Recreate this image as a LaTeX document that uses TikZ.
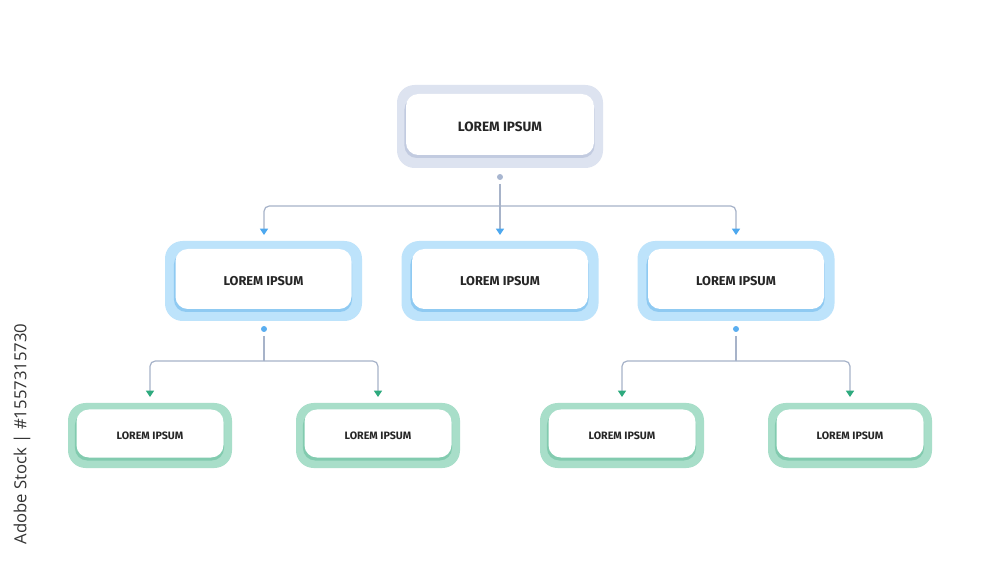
\documentclass[tikz,border=0pt]{standalone}
\usepackage{fontspec}
\setmainfont{Fira Sans}
\newfontfamily\wmfont{Open Sans}
\usetikzlibrary{arrows.meta}
\definecolor{topframe}{HTML}{DDE3F0}
\definecolor{topshadow}{HTML}{C2CBE0}
\definecolor{midframe}{HTML}{BDE3FB}
\definecolor{midshadow}{HTML}{8FCAF2}
\definecolor{botframe}{HTML}{A8DEC9}
\definecolor{botshadow}{HTML}{82CBAF}
\definecolor{linec}{HTML}{A7B3C9}
\definecolor{arrblue}{HTML}{4DA8EF}
\definecolor{arrgreen}{HTML}{2EAA7E}
\definecolor{dottop}{HTML}{A8B6D0}
\definecolor{dotmid}{HTML}{5AAEF0}
\definecolor{txt}{HTML}{262626}
\definecolor{wm}{HTML}{333333}
\tikzset{
  frame/.style={rounded corners=10pt, inner sep=0pt, draw=none},
  card/.style={rounded corners=7pt, fill=white, inner sep=0pt, draw=none},
  label/.style={inner sep=0pt, text=txt, align=center},
  dotnode/.style={circle, inner sep=0pt, minimum size=3.4pt, draw=none},
  conn/.style={draw=linec, line width=0.7pt},
  connblue/.style={conn, rounded corners=3pt, -{Triangle[width=4.6pt,length=3.6pt,color=arrblue]}},
  conngreen/.style={conn, rounded corners=3pt, -{Triangle[width=4.6pt,length=3.6pt,color=arrgreen]}},
}
\newcommand\orgbox[9]{%
  \node[frame, fill=#8frame, minimum width=#4*0.02cm, minimum height=#5*0.02cm] (#1f) at (#2,#3) {};
  \node[card, fill=#8shadow, minimum width=#6*0.02cm+1.2pt, minimum height=#7*0.02cm] (#1s) at (#2-0.5,#3+1) {};
  \node[card, minimum width=#6*0.02cm, minimum height=#7*0.02cm] (#1c) at (#2,#3-2) {};
  \node[label] (#1) at (#2,#3+0.5) {#9};
}
\begin{document}
\begin{tikzpicture}[x=0.02cm, y=-0.02cm]
\fill[white] (0,0) rectangle (1000,563);
\useasboundingbox (0,0) rectangle (1000,563);

% boxes
\orgbox{top}{500}{126.5}{206}{83}{188}{61}{top}{\fontsize{7.7}{9}\selectfont\bfseries LOREM IPSUM}
\orgbox{m1}{263.5}{281}{197}{80}{176}{60}{mid}{\fontsize{7.3}{9}\selectfont\bfseries LOREM IPSUM}
\orgbox{m2}{500}{281}{197}{80}{176}{60}{mid}{\fontsize{7.3}{9}\selectfont\bfseries LOREM IPSUM}
\orgbox{m3}{736}{281}{197}{80}{176}{60}{mid}{\fontsize{7.3}{9}\selectfont\bfseries LOREM IPSUM}
\orgbox{b1}{150}{435.5}{164}{65}{147}{48}{bot}{\fontsize{6.1}{8}\selectfont\bfseries LOREM IPSUM}
\orgbox{b2}{378}{435.5}{164}{65}{147}{48}{bot}{\fontsize{6.1}{8}\selectfont\bfseries LOREM IPSUM}
\orgbox{b3}{622}{435.5}{164}{65}{147}{48}{bot}{\fontsize{6.1}{8}\selectfont\bfseries LOREM IPSUM}
\orgbox{b4}{850}{435.5}{164}{65}{147}{48}{bot}{\fontsize{6.1}{8}\selectfont\bfseries LOREM IPSUM}

% dots
\node[dotnode, fill=dottop] (d0) at (500,177) {};
\node[dotnode, fill=dotmid] (d1) at (264,329) {};
\node[dotnode, fill=dotmid] (d3) at (736,329) {};

% coordinates
\coordinate (j0) at (500,206);
\coordinate (t1) at (264,235);
\coordinate (t2) at (500,235);
\coordinate (t3) at (736,235);
\coordinate (j1) at (264,361);
\coordinate (j3) at (736,361);
\coordinate (u1) at (150,397);
\coordinate (u2) at (378,397);
\coordinate (u3) at (622,397);
\coordinate (u4) at (850,397);

% connectors level 1
\draw[connblue, shorten <=2pt] (d0) -- (t2);
\draw[connblue] (j0) -| (t1);
\draw[connblue] (j0) -| (t3);

% connectors level 2
\draw[conn, shorten <=2pt] (d1) -- (j1);
\draw[conngreen] (j1) -| (u1);
\draw[conngreen] (j1) -| (u2);
\draw[conn, shorten <=2pt] (d3) -- (j3);
\draw[conngreen] (j3) -| (u3);
\draw[conngreen] (j3) -| (u4);

% watermark caption
\node[rotate=90, text=wm, inner sep=0pt, font=\wmfont\fontsize{9.5}{11}\selectfont] (wm) at (22,434) {Adobe Stock | \#1557315730};
\end{tikzpicture}
\end{document}
